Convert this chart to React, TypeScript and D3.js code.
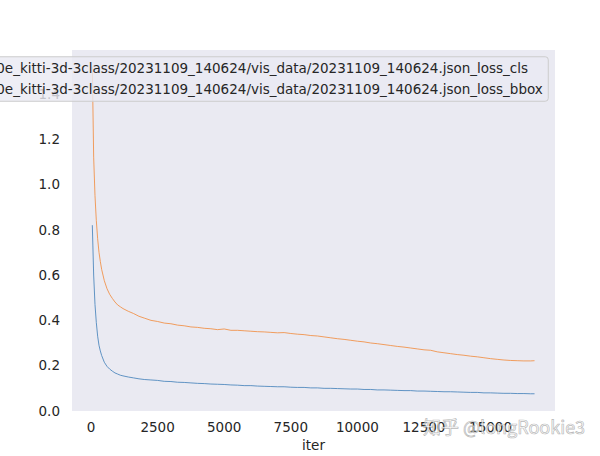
import React, { useLayoutEffect, useRef, useState } from "react";
import * as d3 from "d3";

const iters = [
  50, 100, 150, 200, 250, 300, 350, 400, 500, 600, 700, 800, 900, 1000, 1100, 1200, 1400, 1600, 1800, 2000,
  2250, 2500, 2750, 3000, 3250, 3500, 3750, 4000, 4250, 4500, 4750, 5000, 5250, 5500, 5750, 6000,
  6250, 6500, 6750, 7000, 7250, 7500, 7750, 8000, 8250, 8500, 8750, 9000, 9250, 9500, 9750, 10000,
  10250, 10500, 10750, 11000, 11250, 11500, 11750, 12000, 12250, 12500, 12750, 13000, 13250, 13500,
  13750, 14000, 14250, 14500, 14750, 15000, 15250, 15500, 15750, 16000, 16250, 16500, 16650,
];

const lossCls = [
  1.52, 1.12, 0.95, 0.84, 0.76, 0.7, 0.66, 0.625, 0.575, 0.54, 0.515, 0.497, 0.481, 0.468, 0.46, 0.452, 0.44, 0.43, 0.418, 0.41,
  0.4, 0.395, 0.388, 0.385, 0.379, 0.376, 0.371, 0.369, 0.365, 0.363, 0.359, 0.362, 0.356, 0.356, 0.354, 0.352,
  0.35, 0.349, 0.347, 0.345, 0.346, 0.342, 0.339, 0.337, 0.333, 0.331, 0.327, 0.323, 0.319, 0.316, 0.312, 0.308,
  0.305, 0.3, 0.297, 0.293, 0.289, 0.285, 0.282, 0.278, 0.274, 0.27, 0.268, 0.261, 0.257, 0.253,
  0.249, 0.246, 0.242, 0.239, 0.235, 0.231, 0.228, 0.225, 0.223, 0.222, 0.221, 0.221, 0.222,
];

const lossBbox = [
  0.82, 0.6, 0.47, 0.39, 0.33, 0.29, 0.265, 0.245, 0.215, 0.197, 0.185, 0.176, 0.168, 0.163, 0.158, 0.155, 0.15, 0.146, 0.142, 0.139,
  0.137, 0.135, 0.131, 0.13, 0.127, 0.126, 0.124, 0.122, 0.121, 0.119, 0.118, 0.117, 0.115, 0.114, 0.112, 0.112,
  0.11, 0.109, 0.108, 0.107, 0.107, 0.105, 0.104, 0.104, 0.102, 0.102, 0.1, 0.1, 0.099, 0.098, 0.097, 0.097,
  0.095, 0.095, 0.093, 0.093, 0.092, 0.091, 0.09, 0.09, 0.088, 0.088, 0.087, 0.086, 0.085, 0.085,
  0.084, 0.083, 0.082, 0.082, 0.08, 0.08, 0.079, 0.078, 0.078, 0.077, 0.077, 0.076, 0.076,
];

const xTicks = [0, 2500, 5000, 7500, 10000, 12500, 15000];
const yTicks = [0, 0.2, 0.4, 0.6, 0.8, 1.0, 1.2, 1.4];

const prefix = "pointpillars_hv_secfpn_8xb6-160e_kitti-3d-3class/20231109_140624/vis_data/20231109_140624.json_";
const seriesNames = [prefix + "loss_cls", prefix + "loss_bbox"];
const seriesColors = ["#F28A3A", "#3F7EB8"];

const W = 600;
const H = 456;
const plotL = 72;
const plotR = 555;
const plotT = 50;
const plotB = 411;
const FONT = "'DejaVu Sans', sans-serif";
const TXT = "#262626";

export default function App() {
  const x = d3.scaleLinear().domain([-713, 17418]).range([plotL, plotR]);
  const y = d3.scaleLinear().domain([0, 1.593]).range([plotB, plotT]);

  const line = d3
    .line<number>()
    .x((_, i) => x(iters[i]))
    .y((d) => y(d));

  const measureRef = useRef<SVGTextElement>(null);
  const [maxW, setMaxW] = useState(700);
  useLayoutEffect(() => {
    if (measureRef.current) setMaxW(measureRef.current.getComputedTextLength());
  }, []);

  const fs = 13.5;
  const legR = plotR - 0.5 * fs;
  const legT = plotT + 0.5 * fs;
  const textStart = legR - 0.4 * fs - maxW;
  const lineH = 21.7;
  const legB = legT + 44.5;

  return (
    <svg
      width={W}
      height={H}
      style={{ position: "absolute", left: 0, top: 0, background: "#fff" }}
      fontFamily={FONT}
    >
      <rect x={plotL} y={plotT} width={plotR - plotL} height={plotB - plotT} fill="#EAEAF2" />

      {yTicks.map((t) => (
        <text key={"y" + t} x={plotL - 12} y={y(t) + 4.8} textAnchor="end" fontSize={fs} fill={TXT}>
          {t.toFixed(1)}
        </text>
      ))}
      {xTicks.map((t) => (
        <text key={"x" + t} x={x(t)} y={plotB + 20.5} textAnchor="middle" fontSize={fs} fill={TXT}>
          {t}
        </text>
      ))}
      <text x={(plotL + plotR) / 2} y={450} textAnchor="middle" fontSize={fs} fill={TXT}>
        iter
      </text>

      <path d={line(lossCls) || ""} fill="none" stroke={seriesColors[0]} strokeWidth={0.9} strokeOpacity={0.9} />
      <path d={line(lossBbox) || ""} fill="none" stroke={seriesColors[1]} strokeWidth={0.9} strokeOpacity={0.9} />

      <rect
        x={-40}
        y={legT}
        width={legR + 40}
        height={legB - legT}
        rx={3}
        fill="#EAEAF2"
        fillOpacity={0.8}
        stroke="#CCCCCC"
        strokeWidth={1}
      />
      {seriesNames.map((n, i) => (
        <text key={n} x={textStart} y={legT + 16 + i * lineH} fontSize={fs} fill={TXT}>
          {n}
        </text>
      ))}
      <text ref={measureRef} x={0} y={-100} fontSize={fs} visibility="hidden">
        {seriesNames[1]}
      </text>

      <text
        x={423}
        y={434}
        fontSize={18}
        fontFamily="'Noto Sans CJK SC', 'Noto Sans', sans-serif"
        fill="rgba(255,255,255,0.75)"
        stroke="rgba(110,110,110,0.5)"
        strokeWidth={0.7}
      >
        知乎 @longRookie3
      </text>
    </svg>
  );
}
